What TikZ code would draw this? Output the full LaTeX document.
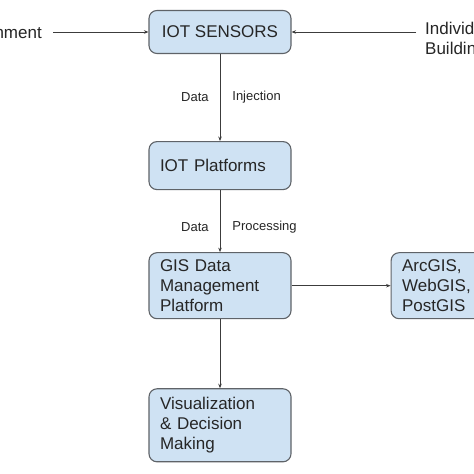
\documentclass[tikz,border=0pt]{standalone}
\usepackage{fontspec}
\setmainfont{Liberation Sans}
\usepackage{xcolor}
\usetikzlibrary{arrows.meta,positioning}
\definecolor{boxfill}{HTML}{CFE2F3}
\definecolor{boxline}{HTML}{5F6368}
\definecolor{linkline}{HTML}{3C3C3C}

\begin{document}
\begin{tikzpicture}[x=1pt, y=1pt,
        block/.style={rectangle, rounded corners=8pt, draw=boxline, line width=1.1pt, fill=boxfill,
                      minimum width=142pt, inner xsep=11pt, font=\fontsize{17}{20}\selectfont, text=black!85},
        leftblock/.style={block, text width=120pt, align=left},
        arrow/.style={-{Stealth[length=4.5pt, width=3.5pt]}, line width=0.8pt, linkline},
        lbl/.style={font=\fontsize{13}{15}\selectfont, text=black!85, inner sep=0pt},
        outer/.style={font=\fontsize{17}{20}\selectfont, text=black!85, inner sep=0pt, align=left}
    ]
        \useasboundingbox (0,0) rectangle (474,474);
        \clip (0,0) rectangle (474,474);
        \fill[white] (0,0) rectangle (474,474);

        \node[block, minimum height=43pt] (sensors) at (220,442) {IOT SENSORS};
        \node[leftblock, minimum height=48pt, below=87pt of sensors] (platforms) {IOT Platforms};
        \node[leftblock, minimum height=66pt, below=62pt of platforms] (gis) {GIS Data\\Management\\Platform};
        \node[leftblock, minimum height=73pt, below=69pt of gis] (vis) {Visualization\\\& Decision\\Making};
        \node[leftblock, minimum height=66pt, right=99pt of gis] (tools) {ArcGIS,\\WebGIS,\\PostGIS};

        % inputs, partly outside the frame
        \node[outer, anchor=east] (env) at (42,442) {Environment};
        \node[outer, anchor=west] (bldg) at (425,434) {Individual\\Buildings};

        \draw[arrow] (env.east) ++(11pt,0) coordinate (envout) -- (sensors.west);
        \draw[arrow] (bldg.west |- sensors.east) ++(-9pt,0) coordinate (bldgout) -- (sensors.east);
        \draw[arrow] (sensors) -- (platforms)
            node[lbl, midway, left=11pt] {Data}
            node[lbl, midway, right=12pt] {Injection};
        \draw[arrow] (platforms) -- (gis)
            node[lbl, pos=0.6, left=11pt] {Data}
            node[lbl, pos=0.6, right=12pt] {Processing};
        \draw[arrow] (gis) -- (tools);
        \draw[arrow] (gis) -- (vis);
    \end{tikzpicture}
\end{document}
